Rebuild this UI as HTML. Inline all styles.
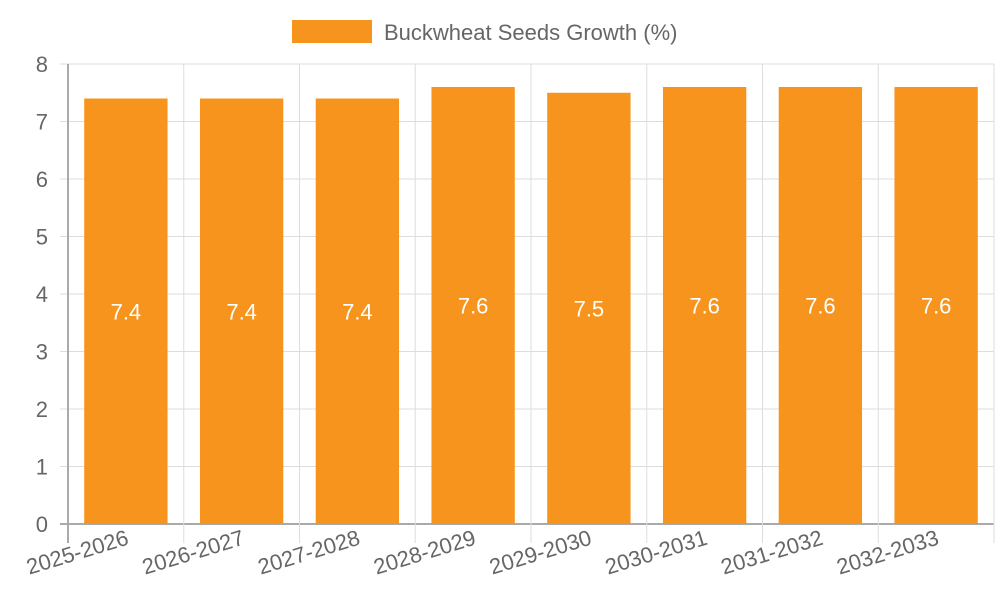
<!DOCTYPE html>
<html><head><meta charset="utf-8"><style>
body{margin:0;background:#fff;}
svg{display:block;font-family:"Liberation Sans",sans-serif;}
</style></head><body>
<svg id="chart" width="1000" height="600">
<g>
<rect x="292" y="20" width="80" height="23" fill="#f7941e"></rect>
<text x="384" y="40" font-size="22" fill="#666">Buckwheat Seeds Growth (%)</text>
</g>
<g id="grid"></g><g id="bars"></g><g id="axes"></g>
</svg>
<script>
const categories=["2025-2026","2026-2027","2027-2028","2028-2029","2029-2030","2030-2031","2031-2032","2032-2033"];
const values=[7.4,7.4,7.4,7.6,7.5,7.6,7.6,7.6];
const yTicks=[0,1,2,3,4,5,6,7,8];
const NS="http://www.w3.org/2000/svg";
const L=68,R=994,T=64,B=524,yMax=8;
const bw=(R-L)/categories.length;
const y=v=>B-(v/yMax)*(B-T);
const x=i=>L+i*bw;
function mk(tag,attrs,parent){const e=document.createElementNS(NS,tag);for(const k in attrs)e.setAttribute(k,attrs[k]);parent.appendChild(e);return e;}
const grid=document.getElementById('grid'),bars=document.getElementById('bars'),axes=document.getElementById('axes');
yTicks.forEach(t=>{
 const ln=mk('line',{x1:60,x2:R,y1:y(t),y2:y(t),stroke:t===0?'#aaa':'#ddd','stroke-width':t===0?2:1},grid);
 
 
 const tx=mk('text',{x:48,y:y(t)+8,'text-anchor':'end','font-size':22,fill:'#666'},axes);
 tx.textContent=t;
 
 
});
for(let i=0;i<=categories.length;i++){
 const ln=mk('line',{x1:x(i),x2:x(i),y1:T,y2:B+19,stroke:i===0?'#aaa':'#ddd','stroke-width':i===0?2:1},grid);
 
 
}
categories.forEach((c,i)=>{
 const cx=x(i)+bw/2,w=bw*0.72,v=values[i];
 const r=mk('rect',{x:cx-w/2,y:y(v),width:w,height:B-y(v),fill:'#f7941e'},bars);
 
 
 const vt=mk('text',{x:cx,y:(y(v)+B)/2+8,'text-anchor':'middle','font-size':22,fill:'#fff'},bars);
 vt.textContent=v;
 
 
 const lt=mk('text',{x:cx+4,y:B+20,'text-anchor':'end','font-size':22,fill:'#666',transform:`rotate(-17 ${cx+4} ${B+20})`},axes);
 lt.textContent=c;
 
 
});
</script>
</body></html>
